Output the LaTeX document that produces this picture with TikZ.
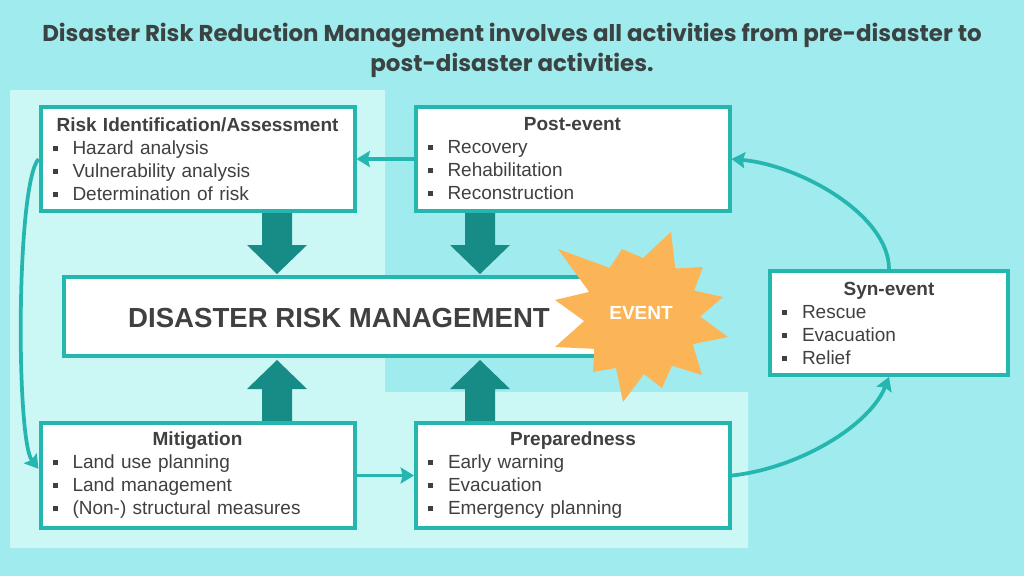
\documentclass[tikz,border=0pt]{standalone}
\usepackage{fontspec}
\setmainfont{Liberation Sans}
\newfontfamily\titlefont{Poppins}
\usetikzlibrary{arrows.meta}
\definecolor{bgc}{HTML}{A0EBEE}
\definecolor{panelc}{HTML}{CBF7F5}
\definecolor{tealc}{HTML}{25B6AF}
\definecolor{darkc}{HTML}{178B86}
\definecolor{orangec}{HTML}{FBB456}
\definecolor{txtc}{HTML}{404040}
\definecolor{titlec}{HTML}{3A4242}
\newlength\tw
\newcommand\bul{\makebox[15pt][l]{\rule[2.6pt]{3.8pt}{3.8pt}}}
\newcommand\itm[1]{\makebox[\tw][l]{\bul#1}}
\newcommand\fatarrow[4]{\fill[darkc] ({#1-15},#2) -- ({#1-15},#3) -- ({#1-30},#3) -- (#1,#4) -- ({#1+30},#3) -- ({#1+15},#3) -- ({#1+15},#2) -- cycle;}
\begin{document}
\begin{tikzpicture}[x=0.75pt,y=-0.75pt,
  box/.style={draw=tealc, line width=3pt, fill=white, inner sep=0pt},
  txt/.style={inner sep=0pt, align=center, text=txtc, font=\fontsize{14.25}{17.25}\selectfont},
  conn/.style={draw=tealc, line width=2.8pt, -{Stealth[length=10pt,width=12pt,inset=1.5pt]}}]
\useasboundingbox (0,0) rectangle (1024,576);
\fill[bgc] (0,0) rectangle (1024,576);
\fill[panelc] (10,90) -- (385,90) -- (385,392) -- (748,392) -- (748,548) -- (10,548) -- cycle;
\node[text=titlec, align=center, font=\titlefont\bfseries\fontsize{17.2}{22.5}\selectfont] (title) at (512,50)
  {Disaster Risk Reduction Management involves all activities from pre-disaster to\\post-disaster activities.};
% thick arrows
\fatarrow{277}{211}{245}{274}
\fatarrow{480}{211}{245}{274}
\fatarrow{277}{423}{389}{360}
\fatarrow{480}{423}{389}{360}
% boxes
\node[box, minimum width=235.5pt, minimum height=78pt] (risk) at (197.5,159) {};
\node[box, minimum width=235.5pt, minimum height=78pt] (post) at (572.5,159) {};
\node[box, minimum width=235.5pt, minimum height=78.75pt] (mit) at (197.5,475.5) {};
\node[box, minimum width=235.5pt, minimum height=78.75pt] (prep) at (573,475.5) {};
\node[box, minimum width=178.5pt, minimum height=78pt] (syn) at (889,323) {};
\node[box, minimum width=411pt, minimum height=59.25pt] (drm) at (338,316.5) {};
\node[text=txtc, font=\bfseries\fontsize{20.7}{24}\selectfont, inner sep=0pt] (drmt) at (339,318) {DISASTER RISK MANAGEMENT};
% star
\fill[orangec] (555,300) -- (589.2,291.9) -- (558,249) -- (609.6,267.9) -- (622,249) -- (643,258) -- (671,232)
  -- (675.3,268.5) -- (703,267) -- (694.1,290.6) -- (723,297) -- (700,316.5) -- (728,337) -- (692.7,344.1)
  -- (702,375) -- (671.9,365.7) -- (662,388) -- (644,374) -- (623,402) -- (616.1,367.9) -- (593,372)
  -- (594.2,348.8) -- (555,347) -- (584.2,321) -- cycle;
\node[text=white, font=\bfseries\fontsize{14.25}{17}\selectfont, inner sep=0pt] (evt) at (641,313) {EVENT};
% box texts
\setlength\tw{217.5pt}
\node[txt, text width=217.5pt] (riskt) at (risk.center)
  {\textbf{Risk Identification/Assessment}\\\itm{Hazard analysis}\\\itm{Vulnerability analysis}\\\itm{Determination of risk}};
\node[txt, text width=217.5pt] (postt) at (post.center)
  {\textbf{Post-event}\\\itm{Recovery}\\\itm{Rehabilitation}\\\itm{Reconstruction}};
\node[txt, text width=217.5pt] (mitt) at (mit.center)
  {\textbf{Mitigation}\\\itm{Land use planning}\\\itm{Land management}\\\itm{(Non-) structural measures}};
\node[txt, text width=217.5pt] (prept) at (prep.center)
  {\textbf{Preparedness}\\\itm{Early warning}\\\itm{Evacuation}\\\itm{Emergency planning}};
\setlength\tw{160.5pt}
\node[txt, text width=160.5pt] (synt) at (syn.center)
  {\textbf{Syn-event}\\\itm{Rescue}\\\itm{Evacuation}\\\itm{Relief}};
% connectors
\draw[conn] (post.west) -- (risk.east);
\draw[conn] (risk.west) .. controls (16,185) and (16,440) .. ([yshift=5pt]mit.west);
\draw[conn] (mit.east) -- (prep.west);
\draw[conn] (prep.east) .. controls (800,468) and (870,425) .. (syn.south);
\draw[conn] (syn.north) .. controls (889,215) and (800,165) .. (post.east);
\end{tikzpicture}
\end{document}
